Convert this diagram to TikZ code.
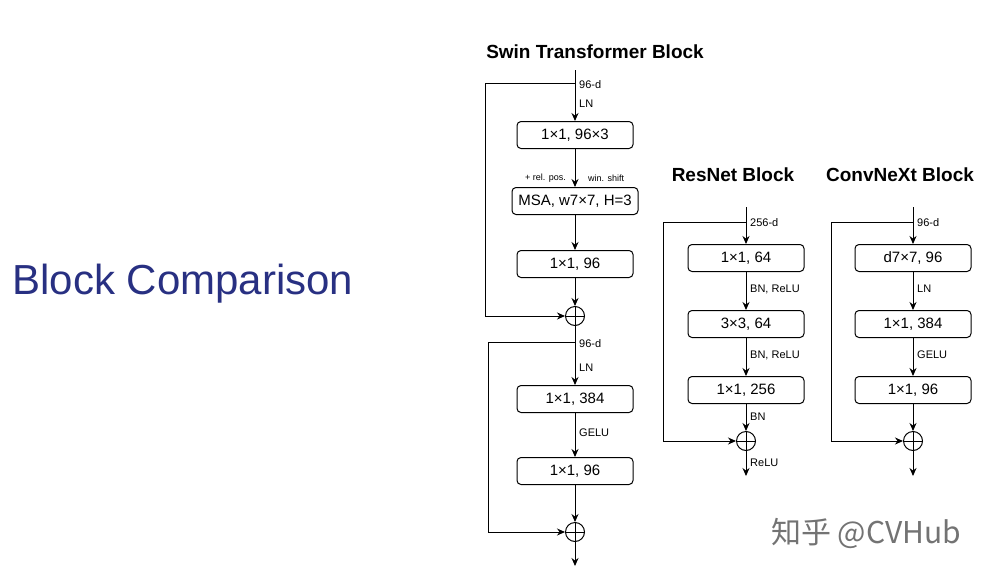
\documentclass[tikz,border=0pt]{standalone}
\usepackage{fontspec}
\setmainfont{Liberation Sans}
\newfontfamily\cjk{Noto Sans CJK SC}
\usetikzlibrary{arrows.meta}
\definecolor{navy}{RGB}{40,48,130}
\begin{document}
\begin{tikzpicture}[x=1pt,y=-1pt,
  box/.style={draw,rounded corners=4pt,minimum width=116pt,minimum height=27pt,font=\fontsize{15}{16}\selectfont,inner sep=1pt,line width=1pt},
  wbox/.style={box,minimum width=126pt},
  add/.style={draw,circle,line width=1pt,minimum size=19pt,inner sep=0pt,path picture={\draw[line width=1pt] (path picture bounding box.north)--(path picture bounding box.south) (path picture bounding box.west)--(path picture bounding box.east);}},
  lab/.style={font=\fontsize{11}{12}\selectfont,anchor=west,inner sep=1pt},
  ttl/.style={font=\bfseries\fontsize{19}{21}\selectfont},
  ar/.style={-{Stealth[length=8pt,width=7pt]},line width=1pt},
  ln/.style={line width=1pt}]
\useasboundingbox (0,0) rectangle (987,573);
\node[anchor=west,text=navy,font=\fontsize{42}{46}\selectfont] (bc) at (9,284) {Block Comparison};
% Swin
\node[ttl] (t1) at (595,52) {Swin Transformer Block};
\coordinate (s0) at (575,70);
\coordinate (s0b) at (575,83);
\coordinate (s0l) at (485,83);
\node[box] (s1) at (575,135) {1×1, 96×3};
\node[wbox] (s2) at (575,201) {MSA, w7×7, H=3};
\node[box] (s3) at (575,264) {1×1, 96};
\node[add] (sa) at (575,316) {};
\draw[ln] (s0)--(s0b);
\draw[ar] (s0b)--(s1);
\draw[ar] (s1)--(s2);
\draw[ar] (s2)--(s3);
\draw[ar] (s3)--(sa);
\draw[ar] (s0b)--(s0l)|-(sa);
\node[lab] at (578,85) {96-d};
\node[lab] at (578,104) {LN};
\node[lab,font=\fontsize{9}{10}\selectfont,anchor=east] at (567,178) {+ rel. pos.};
\node[lab,font=\fontsize{9}{10}\selectfont] at (587,178) {win. shift};
\coordinate (s4b) at (575,342);
\coordinate (s4l) at (488,342);
\node[box] (s5) at (575,399) {1×1, 384};
\node[box] (s6) at (575,471) {1×1, 96};
\node[add] (sb) at (575,532) {};
\coordinate (se) at (575,566);
\draw[ln] (sa)--(s4b);
\draw[ar] (s4b)--(s5);
\draw[ar] (s5)--(s6);
\draw[ar] (s6)--(sb);
\draw[ar] (sb)--(se);
\draw[ar] (s4b)--(s4l)|-(sb);
\node[lab] at (578,344) {96-d};
\node[lab] at (578,368) {LN};
\node[lab] at (578,433) {GELU};
% ResNet
\node[ttl] (t2) at (733,175) {ResNet Block};
\coordinate (r0) at (746,207);
\coordinate (r0b) at (746,222);
\coordinate (r0l) at (663,222);
\node[box] (r1) at (746,258) {1×1, 64};
\node[box] (r2) at (746,324) {3×3, 64};
\node[box] (r3) at (746,390) {1×1, 256};
\node[add] (ra) at (746,441) {};
\coordinate (re) at (746,476);
\draw[ln] (r0)--(r0b);
\draw[ar] (r0b)--(r1);
\draw[ar] (r1)--(r2);
\draw[ar] (r2)--(r3);
\draw[ar] (r3)--(ra);
\draw[ar] (ra)--(re);
\draw[ar] (r0b)--(r0l)|-(ra);
\node[lab] at (749,223) {256-d};
\node[lab] at (749,289) {BN, ReLU};
\node[lab] at (749,355) {BN, ReLU};
\node[lab] at (749,417) {BN};
\node[lab] at (749,463) {ReLU};
% ConvNeXt
\node[ttl] (t3) at (900,175) {ConvNeXt Block};
\coordinate (c0) at (913,207);
\coordinate (c0b) at (913,222);
\coordinate (c0l) at (831,222);
\node[box] (c1) at (913,258) {d7×7, 96};
\node[box] (c2) at (913,324) {1×1, 384};
\node[box] (c3) at (913,390) {1×1, 96};
\node[add] (ca) at (913,441) {};
\coordinate (ce) at (913,476);
\draw[ln] (c0)--(c0b);
\draw[ar] (c0b)--(c1);
\draw[ar] (c1)--(c2);
\draw[ar] (c2)--(c3);
\draw[ar] (c3)--(ca);
\draw[ar] (ca)--(ce);
\draw[ar] (c0b)--(c0l)|-(ca);
\node[lab] at (916,223) {96-d};
\node[lab] at (916,289) {LN};
\node[lab] at (916,355) {GELU};
% watermark
\node[text=black!55,font=\cjk\fontsize{30}{34}\selectfont] (wm) at (866,533) {知乎 @CVHub};
\end{tikzpicture}
\end{document}
